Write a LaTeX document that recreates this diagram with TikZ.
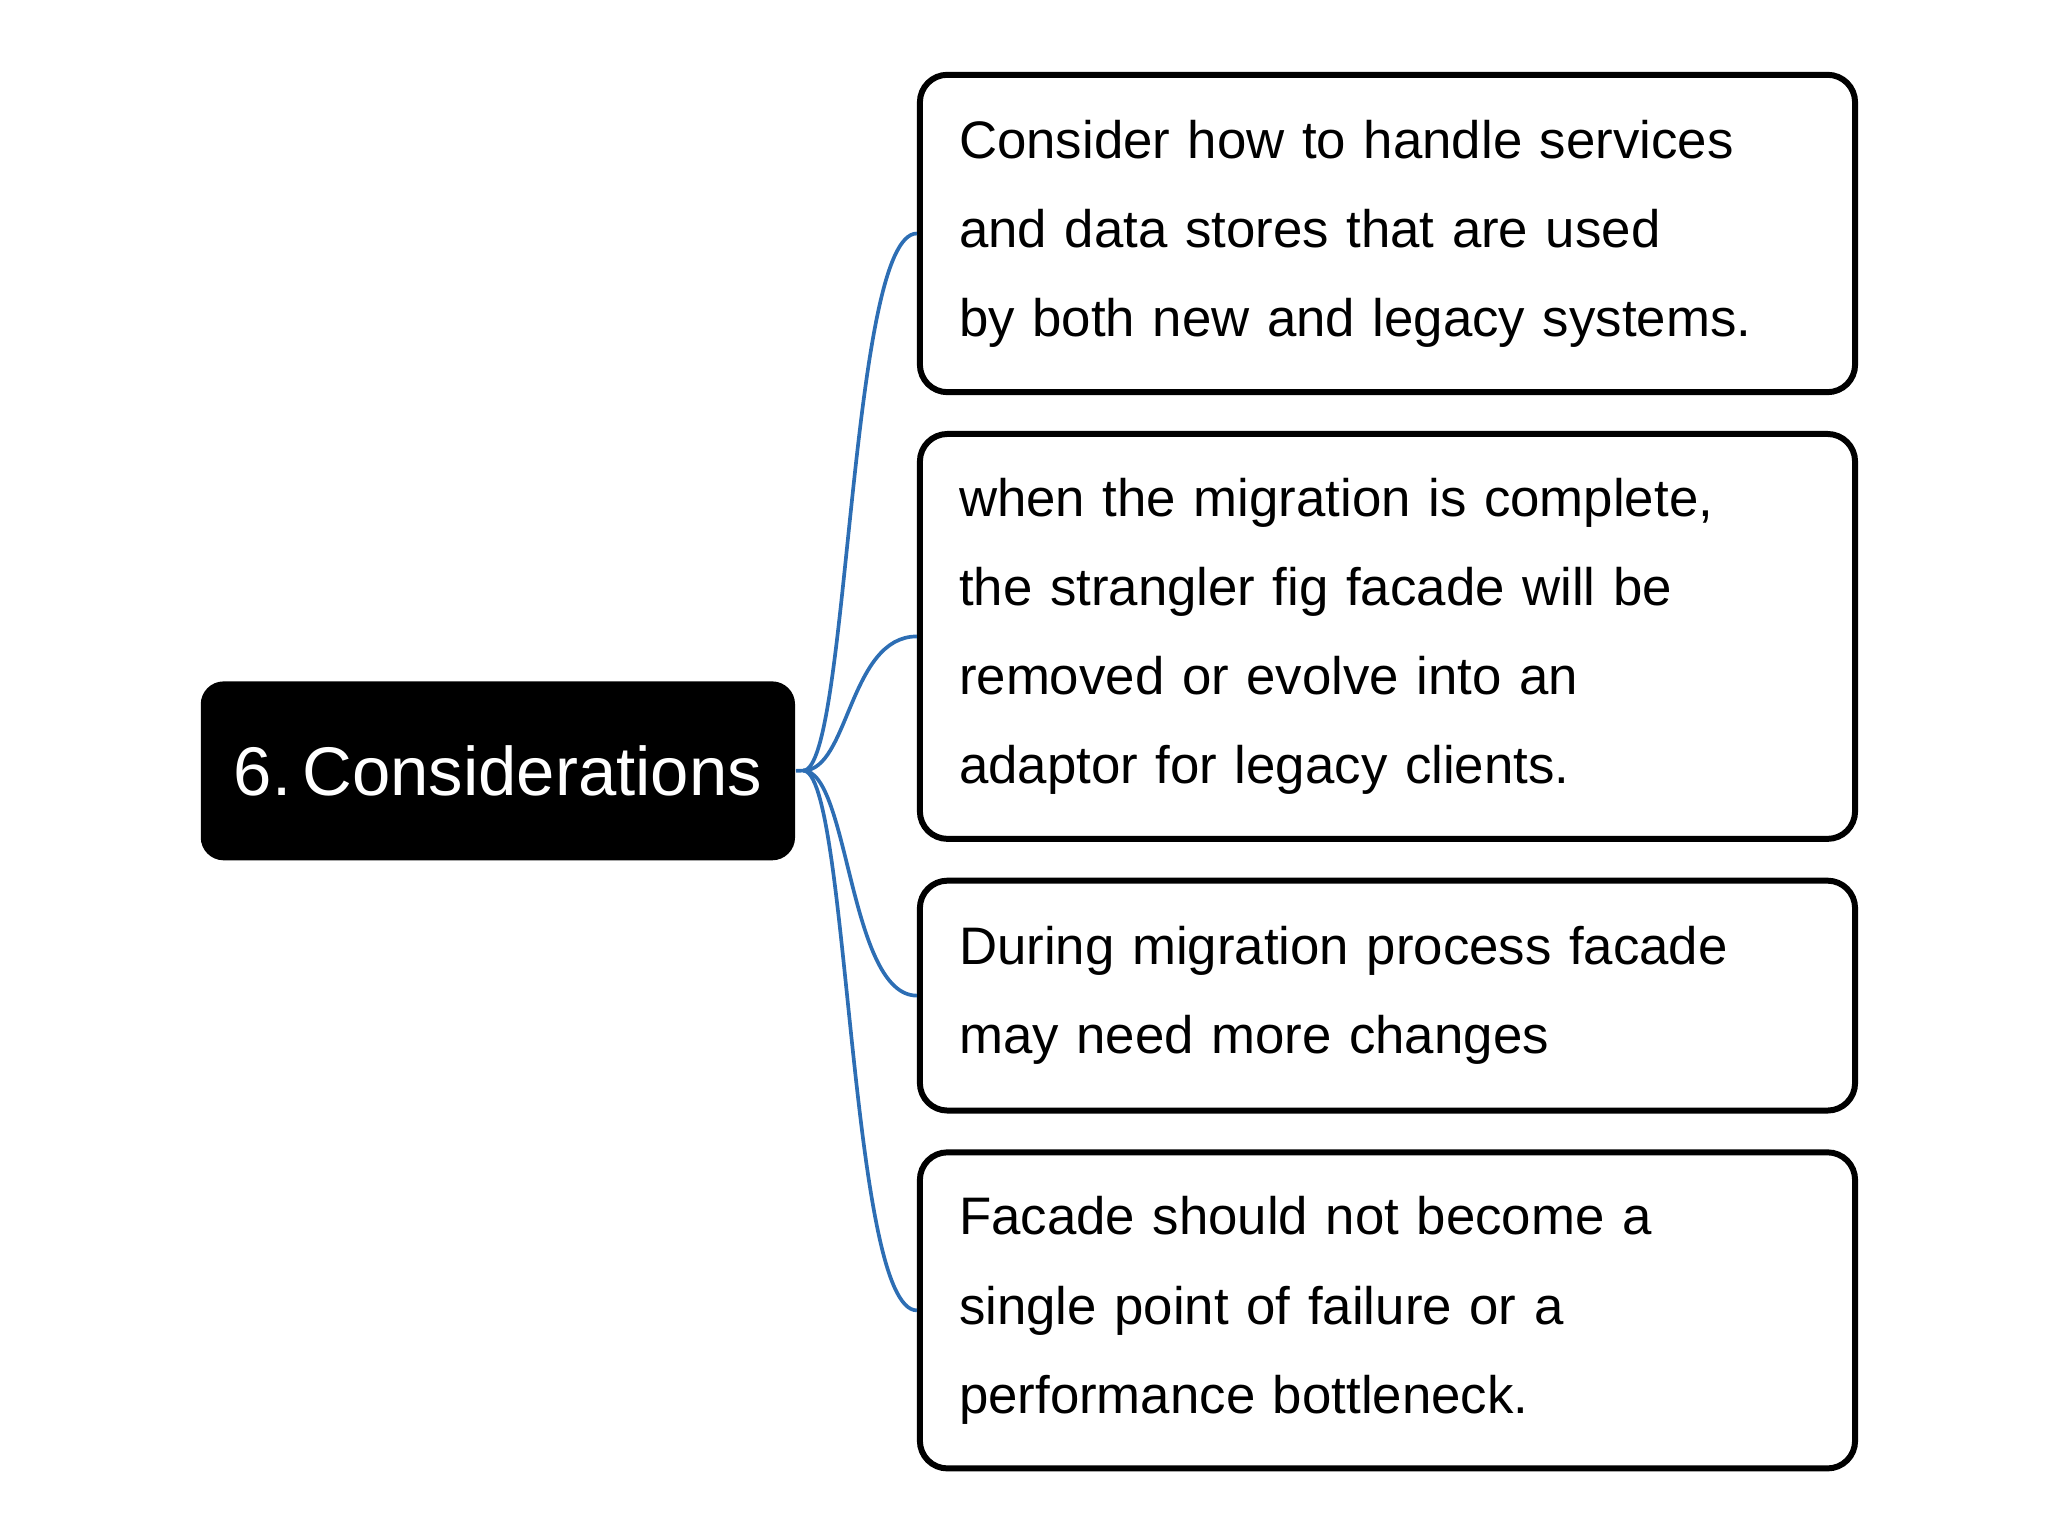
\documentclass[tikz,border=0pt]{standalone}
\usepackage{fontspec}
\setmainfont{Liberation Sans}
\begin{document}
\begin{tikzpicture}[
  box/.style={draw=black, line width=1.3pt, rounded corners=6pt, fill=white, anchor=north west,
    minimum width=7.16cm, text width=6.56cm, align=left, inner xsep=0.3cm,
    font=\fontsize{11.5}{19.4}\selectfont},
  link/.style={draw={rgb,255:red,45;green,110;blue,180}, line width=0.8pt}
]
\useasboundingbox (0,0) rectangle (15.68,11.76);
\node[fill=black, rounded corners=5pt, minimum width=4.55cm, minimum height=1.37cm, text=white,
  inner xsep=0.2cm, font=\fontsize{15}{20}\selectfont, anchor=north west] (root) at (1.53,6.55) {6.\,Considerations};
\node[box, minimum height=2.43cm] (b1) at (7.02,11.21) {Consider how to handle services\\and data stores that are used\\by both new and legacy systems.};
\node[box, minimum height=3.1cm] (b2) at (7.02,8.46) {when the migration is complete,\\the strangler fig facade will be\\removed or evolve into an\\adaptor for legacy clients.};
\node[box, minimum height=1.76cm] (b3) at (7.02,5.04) {During migration process facade\\may need more changes};
\node[box, minimum height=2.42cm] (b4) at (7.02,2.96) {Facade should not become a\\single point of failure or a\\performance bottleneck.};
\coordinate (s) at (6.15,5.86);
\draw[link] (root.east) -- (s);
\foreach \b in {b1,b2,b3,b4}{
  \draw[link] (s) .. controls (6.5,5.86) and (6.5,0 |- \b.west) .. (\b.west);
}
\end{tikzpicture}
\end{document}
